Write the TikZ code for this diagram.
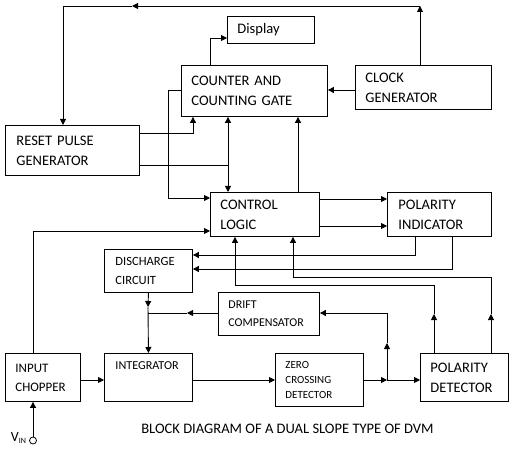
\documentclass[tikz,border=0pt]{standalone}
\usepackage{fontspec}
\setmainfont{Carlito}
\usetikzlibrary{arrows.meta}

\tikzstyle{block} = [draw, rectangle, anchor=north west, align=left, inner xsep=10bp, inner ysep=0pt, font=\fontsize{14.6}{20}\selectfont]
\tikzstyle{small-block} = [block, font=\fontsize{12.6}{19}\selectfont]
\tikzstyle{tiny-block} = [block, font=\fontsize{11}{15}\selectfont]
\tikzstyle{arr} = [-{Triangle[length=6bp,width=6bp]}]
\tikzstyle{biarr} = [{Triangle[length=6bp,width=6bp]}-{Triangle[length=6bp,width=6bp]}]

\begin{document}
\begin{tikzpicture}[x=1bp, y=-1bp, line width=0.9bp]
	\useasboundingbox (0,0) rectangle (514,453);

	% blocks
	\node [block, text width=67bp, minimum height=27bp] (disp) at (227,16) {Display};
	\node [block, text width=126bp, minimum height=51bp] (count) at (181,65) {COUNTER AND\\COUNTING GATE};
	\node [block, text width=116bp, minimum height=44bp] (clock) at (355,65) {CLOCK\\GENERATOR};
	\node [block, text width=112bp, inner xsep=11bp, minimum height=50bp] (reset) at (5,125) {RESET PULSE\\GENERATOR};
	\node [block, text width=89bp, minimum height=44bp] (ctrl) at (210,192) {CONTROL\\LOGIC};
	\node [block, text width=82bp, inner xsep=11bp, minimum height=44bp] (polind) at (387,192) {POLARITY\\INDICATOR};
	\node [small-block, text width=66bp, inner xsep=11bp, minimum height=43bp] (disch) at (104,249) {DISCHARGE\\CIRCUIT};
	\node [small-block, text width=81bp, minimum height=43bp, font=\fontsize{12}{18}\selectfont] (drift) at (218,292) {DRIFT\\COMPENSATOR};
	\node [small-block, text width=55bp, minimum height=48bp, font=\fontsize{13}{19}\selectfont] (chop) at (5,353) {INPUT\\CHOPPER};
	\node [small-block, text width=66bp, inner xsep=11bp, inner ysep=8bp, text height=7.8bp, text depth=24.2bp, font=\fontsize{12.2}{15}\selectfont] (integ) at (104,353) {INTEGRATOR};
	\node [tiny-block, text width=68bp, minimum height=53bp] (zcd) at (275,353) {ZERO\\CROSSING\\DETECTOR};
	\node [block, text width=68bp, minimum height=48bp] (poldet) at (420,353) {POLARITY\\DETECTOR};

	\node [circle, draw, inner sep=0pt, minimum size=7bp, line width=0.8bp] (vin) at (33,440.5) {};
	\node [anchor=base east, inner sep=0pt, font=\fontsize{14}{16}\selectfont] (vinlbl) at (26.5,441) {V\raisebox{-2bp}{\fontsize{8}{9}\selectfont IN}};
	\node [anchor=base, inner sep=0pt, font=\fontsize{14.6}{18}\selectfont] (title) at (287.5,433) {BLOCK DIAGRAM OF A DUAL SLOPE TYPE OF DVM};

	% junctions
	\coordinate (topR) at (420,6);
	\coordinate (topM) at (132,6);
	\coordinate (topL) at (63,6);
	\coordinate (dj) at (148,313);
	\coordinate (zj) at (387,380);

	% clock loop over the top
	\draw[arr] (clock.north -| topR) -- (topR);
	\draw[arr] (topR) -- (topM);
	\draw[arr] (topM) -- (topL) -- (reset.north -| topL);
	\draw[arr] (clock.west |- 0,90) -- (count.east |- 0,90);
	\draw[arr] (count.north -| 210,0) |- (disp.west |- 0,38);

	% reset pulse generator
	\draw[arr] (reset.east |- 0,133) -| (count.south -| 193,0);
	\draw (reset.east |- 0,165) -- (228,165);
	\draw[biarr] (count.south -| 228,0) -- (ctrl.north -| 228,0);
	\draw[arr] (count.west |- 0,90) -- (168,90) |- (ctrl.west |- 0,198);
	\draw[arr] (ctrl.north -| 298,0) -- (count.south -| 298,0);

	% control logic and polarity
	\draw[arr] (ctrl.east |- 0,199) -- (polind.west |- 0,199);
	\draw[arr] (ctrl.east |- 0,226) -- (polind.west |- 0,226);
	\draw[arr] (polind.south -| 415,0) |- (disch.east |- 0,255);
	\draw[arr] (polind.south -| 452,0) |- (disch.east |- 0,269);
	\draw[arr] (poldet.north -| 434,0) -- (434,314);
	\draw[arr] (434,314) |- (235,285) -- (ctrl.south -| 235,0);
	\draw[arr] (poldet.north -| 491,0) -- (491,314);
	\draw[arr] (491,314) |- (293,277) -- (ctrl.south -| 293,0);

	% integrator path
	\draw[arr] (disch.south) -- (148,307);
	\draw[arr] (148,307) -- (integ.north);
	\draw[arr] (drift.west |- dj) -- (187,313);
	\draw (187,313) -- (dj);
	\draw[arr] (chop.north -| vin) |- (ctrl.west |- 0,231);
	\draw[arr] (vin.north) -- (chop.south -| vin);
	\draw[arr] (chop.east |- 0,380) -- (integ.west |- 0,380);
	\draw[arr] (integ.east |- 0,380) -- (zcd.west |- 0,380);
	\draw[arr] (zcd.east |- zj) -- (zj);
	\draw[arr] (zj) -- (poldet.west |- zj);
	\draw[arr] (zj) -- (387,343);
	\draw[arr] (387,343) |- (drift.east |- 0,313);

\end{tikzpicture}
\end{document}
